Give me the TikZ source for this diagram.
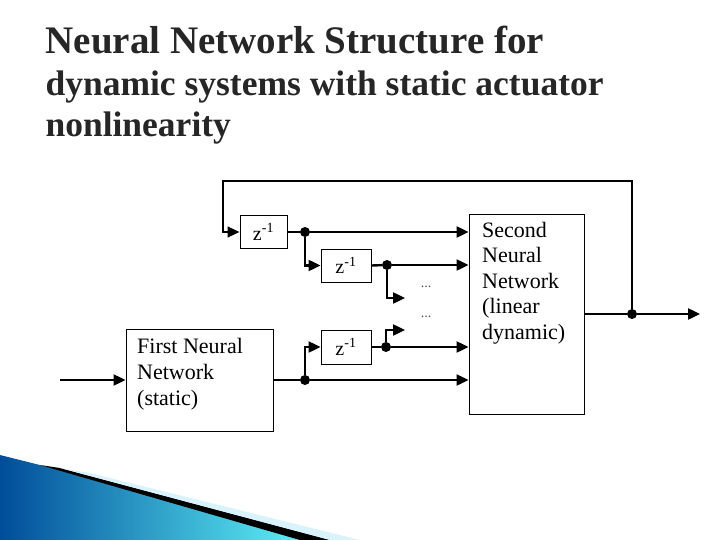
\documentclass[tikz,border=0pt]{standalone}
\usepackage{fontspec}
\setmainfont{Liberation Serif}
\usetikzlibrary{arrows.meta}
\begin{document}
\begin{tikzpicture}[x=1pt,y=-1pt,
  zb/.style={draw,line width=1pt,font=\fontsize{20}{22}\selectfont},
  wire/.style={line width=2.4pt},
  arr/.style={line width=2.4pt,-{Triangle[length=12pt,width=11pt]}},
  dot/.style={circle,fill,inner sep=0pt,minimum size=10pt}]
\useasboundingbox (0,0) rectangle (720,540);
% bottom decoration
\shade[left color=cyan!50!blue!60!black,right color=cyan!60!white] (0,455) -- (40,465) -- (330,540) -- (0,540) -- cycle;
\fill[black] (40,465) -- (60,468) -- (330,540) -- (300,540) -- cycle;
\fill[cyan!15] (60,468) -- (90,473) -- (360,540) -- (330,540) -- cycle;
% title
\node[anchor=west,font=\fontsize{39}{44}\selectfont\bfseries,text=black!85] (t1) at (42,40) {Neural Network Structure for};
\node[anchor=west,font=\fontsize{35.5}{40}\selectfont\bfseries,text=black!85] (t2) at (42,87) {dynamic systems with static actuator};
\node[anchor=west,font=\fontsize{35.5}{40}\selectfont\bfseries,text=black!85] (t3) at (42,128) {nonlinearity};
% blocks
\node[zb,minimum width=47pt,minimum height=32pt] (z1) at (263.5,232) {z\textsuperscript{-1}};
\node[zb,minimum width=50pt,minimum height=33pt] (z2) at (346,265.5) {z\textsuperscript{-1}};
\node[zb,minimum width=50pt,minimum height=34pt] (z3) at (346,347) {z\textsuperscript{-1}};
\node[draw,line width=1pt,minimum width=147pt,minimum height=102pt] (nn1) at (199.5,380) {};
\node[anchor=north west,font=\fontsize{22}{26}\selectfont,align=left,inner sep=0pt] (l1) at (137,338) {First Neural\\Network\\(static)};
\node[draw,line width=1pt,minimum width=115pt,minimum height=199pt] (nn2) at (526.5,314.5) {};
\node[anchor=north west,font=\fontsize{22}{25.5}\selectfont,align=left,inner sep=0pt] (l2) at (482,222) {Second\\Neural\\Network\\(linear\\dynamic)};
% junctions
\node[dot] (d1) at (305,232) {};
\node[dot] (d2) at (387,265) {};
\node[dot] (d3) at (386,347) {};
\node[dot] (d4) at (305,380) {};
\node[dot] (dout) at (632,314) {};
\coordinate (in) at (60,380);
\coordinate (end) at (700,314);
\coordinate (c1) at (405,298);
\coordinate (c2) at (405,330);
\coordinate (fb) at (223,181);
\node[font=\fontsize{14}{14}\selectfont,text=black!70] (e1) at (426,287) {...};
\node[font=\fontsize{14}{14}\selectfont,text=black!70] (e2) at (426,317) {...};
% wires
\draw[arr] (in) -- (nn1.west |- in);
\draw[wire] (nn1.east |- d4) -- (d4);
\draw[arr] (d4) -- (nn2.west |- d4);
\draw[arr] (d4) |- (z3.west);
\draw[wire] (z3.east) -- (d3);
\draw[arr] (d3) -- (nn2.west |- d3);
\draw[arr] (d3) |- (c2);
\draw[wire,line width=1.2pt] (z1.east) -- (d1);
\draw[arr] (d1) -- (nn2.west |- d1);
\draw[arr] (d1) |- (z2.west);
\draw[wire] (z2.east) -- (d2);
\draw[arr] (d2) -- (nn2.west |- d2);
\draw[arr] (d2) |- (c1);
\draw[wire,line width=1.2pt] (nn2.east |- dout) -- (dout);
\draw[arr] (dout) -- (end);
\draw[arr,line width=1.2pt] (dout) |- (fb) |- (z1.west);
\end{tikzpicture}
\end{document}
